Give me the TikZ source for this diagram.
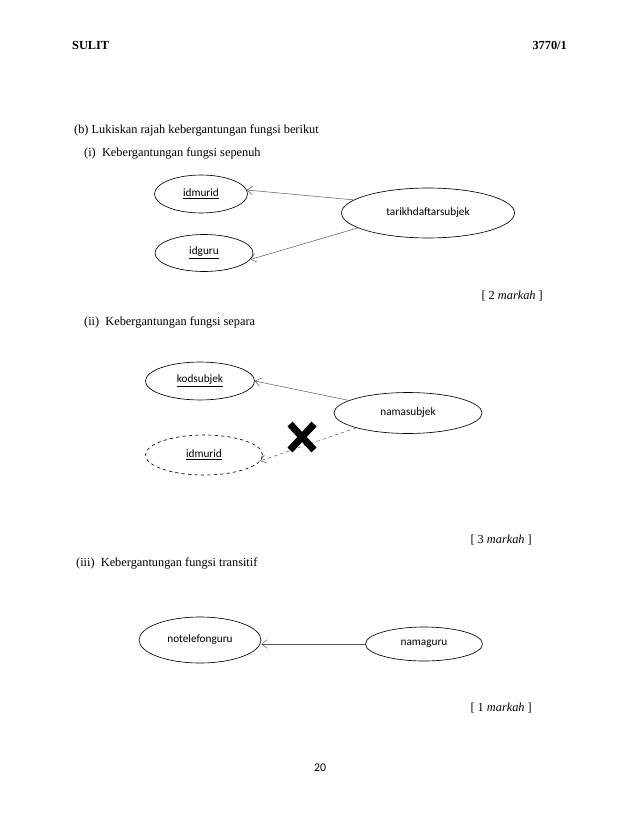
\documentclass[tikz,border=0pt]{standalone}
\usepackage{fontspec}
\setmainfont{Liberation Serif}
\newfontfamily\calfont{Carlito}
\usepackage{tikz}
\usetikzlibrary{shapes.geometric,arrows.meta}
\definecolor{fdline}{HTML}{555555}

\begin{document}
\begin{tikzpicture}[x=0.9328pt,y=-0.9328pt,
  attr/.style={draw=black,ellipse,line width=0.6pt,inner sep=0pt,font=\calfont\fontsize{10.5}{12}\selectfont},
  dep/.style={draw=fdline,line width=0.45pt,-{Straight Barb[length=5pt,width=8pt]}},
  txt/.style={inner sep=0pt,font=\fontsize{11.5}{13}\selectfont},
  markah/.style={inner sep=0pt,anchor=east,font=\fontsize{11.5}{13}\selectfont}
]
\useasboundingbox[fill=white] (0,0) rectangle (638,826);
% header
\node[txt,anchor=west,font=\bfseries\fontsize{11.5}{13}\selectfont] (sulit) at (72,45) {SULIT};
\node[txt,anchor=east,font=\bfseries\fontsize{11.5}{13}\selectfont] (kod) at (567,45) {3770/1};
\node[txt,anchor=west] (qb) at (74,130) {(b) Lukiskan rajah kebergantungan fungsi berikut};
% (i) sepenuh
\node[txt,anchor=west] (qi) at (84,153) {(i)\ \ Kebergantungan fungsi sepenuh};
\node[attr,minimum width=86.8pt,minimum height=35.4pt] (idmurid) at (201,194) {\underline{idmurid}};
\node[attr,minimum width=91.4pt,minimum height=34.5pt] (idguru) at (204,253) {\underline{idguru}};
\node[attr,minimum width=161.4pt,minimum height=46.6pt] (tarikh) at (428,213) {tarikhdaftarsubjek};
\draw[dep] (tarikh.170) -- (idmurid.5);
\draw[dep] (tarikh.192) -- (idguru.-8);
\node[markah] (mi) at (543,296) {[ 2 \textit{markah} ]};
% (ii) separa
\node[txt,anchor=west] (qii) at (84,322) {(ii)\ \ Kebergantungan fungsi separa};
\node[attr,minimum width=101.7pt,minimum height=35.4pt] (kodsubjek) at (200,381) {\underline{kodsubjek}};
\node[attr,dashed,minimum width=109.1pt,minimum height=37.3pt] (idmuridb) at (204,455) {\underline{idmurid}};
\node[attr,minimum width=138.1pt,minimum height=38.2pt] (namasubjek) at (408,413) {namasubjek};
\draw[dep] (namasubjek.168) -- (kodsubjek.east);
\draw[dep,dashed] (namasubjek.196) -- (idmuridb.-6);
\draw[line width=6.5pt,black] (290,424) -- (314,450) (290,450) -- (314,424);
\node[markah] (mii) at (532,540) {[ 3 \textit{markah} ]};
% (iii) transitif
\node[txt,anchor=west] (qiii) at (76,563) {(iii)\ \ Kebergantungan fungsi transitif};
\node[attr,minimum width=113.8pt,minimum height=42.9pt] (notel) at (200,640) {notelefonguru};
\node[attr,minimum width=109.1pt,minimum height=31.7pt] (namaguru) at (424,644) {namaguru};
\draw[dep] (namaguru.west) -- (namaguru.west -| notel.east);
\node[markah] (miii) at (532,708) {[ 1 \textit{markah} ]};
% page number
\node[inner sep=0pt,font=\calfont\fontsize{11}{13}\selectfont] (page) at (320,768) {20};
\end{tikzpicture}
\end{document}
